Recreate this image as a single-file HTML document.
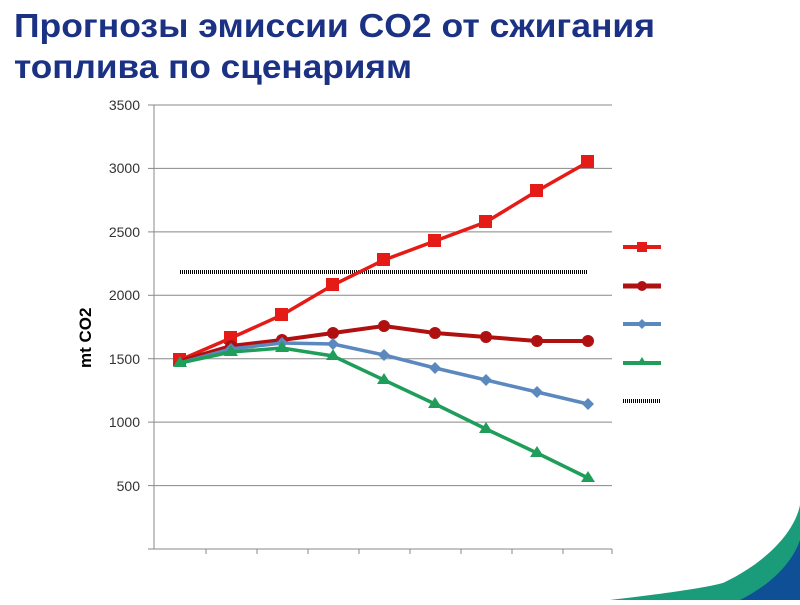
<!DOCTYPE html>
<html><head><meta charset="utf-8"><style>
body{margin:0;background:#fff;width:800px;height:600px;overflow:hidden;font-family:"Liberation Sans",sans-serif}
</style></head><body>
<svg width="800" height="600" xmlns="http://www.w3.org/2000/svg" font-family="Liberation Sans, sans-serif">
<text x="14" y="37" font-size="33" font-weight="bold" fill="#1a3184" textLength="641" lengthAdjust="spacingAndGlyphs">Прогнозы эмиссии CO2 от сжигания</text>
<text x="14" y="78" font-size="33" font-weight="bold" fill="#1a3184" textLength="398" lengthAdjust="spacingAndGlyphs">топлива по сценариям</text>
<g stroke="#888" stroke-width="1">
<line x1="154" y1="105" x2="612" y2="105"/><line x1="154" y1="168.4" x2="612" y2="168.4"/>
<line x1="154" y1="231.9" x2="612" y2="231.9"/><line x1="154" y1="295.3" x2="612" y2="295.3"/>
<line x1="154" y1="358.7" x2="612" y2="358.7"/><line x1="154" y1="422.1" x2="612" y2="422.1"/>
<line x1="154" y1="485.6" x2="612" y2="485.6"/><line x1="154" y1="549" x2="612" y2="549"/>
<line x1="154" y1="105" x2="154" y2="549"/>
<line x1="148" y1="105" x2="154" y2="105"/><line x1="148" y1="168.4" x2="154" y2="168.4"/><line x1="148" y1="231.9" x2="154" y2="231.9"/><line x1="148" y1="295.3" x2="154" y2="295.3"/><line x1="148" y1="358.7" x2="154" y2="358.7"/><line x1="148" y1="422.1" x2="154" y2="422.1"/><line x1="148" y1="485.6" x2="154" y2="485.6"/><line x1="148" y1="549" x2="154" y2="549"/>
<line x1="206" y1="549" x2="206" y2="554"/><line x1="257" y1="549" x2="257" y2="554"/><line x1="308" y1="549" x2="308" y2="554"/><line x1="359" y1="549" x2="359" y2="554"/><line x1="410" y1="549" x2="410" y2="554"/><line x1="461" y1="549" x2="461" y2="554"/><line x1="512" y1="549" x2="512" y2="554"/><line x1="563" y1="549" x2="563" y2="554"/><line x1="612" y1="549" x2="612" y2="554"/>
</g>
<g font-size="14" fill="#333" text-anchor="end">
<text x="140" y="110">3500</text><text x="140" y="173">3000</text><text x="140" y="237">2500</text><text x="140" y="300">2000</text><text x="140" y="364">1500</text><text x="140" y="427">1000</text><text x="140" y="491">500</text>
</g>
<text transform="translate(91,368) rotate(-90)" font-size="17" font-weight="bold" fill="#000">mt CO2</text>
<line x1="180" y1="272" x2="588" y2="272" stroke="#000" stroke-width="4" stroke-dasharray="1,1"/>
<polyline fill="none" stroke="#e41b17" stroke-width="3.5" points="180,360 231,338 282,315 333,285 384,260 435,241 486,222 537,191 588,162"/>
<g fill="#e41b17"><rect x="173" y="353" width="13" height="13"/><rect x="224" y="331" width="13" height="13"/><rect x="275" y="308" width="13" height="13"/><rect x="326" y="278" width="13" height="13"/><rect x="377" y="253" width="13" height="13"/><rect x="428" y="234" width="13" height="13"/><rect x="479" y="215" width="13" height="13"/><rect x="530" y="184" width="13" height="13"/><rect x="581" y="155" width="13" height="13"/></g>
<polyline fill="none" stroke="#b01010" stroke-width="4" points="180,361 231,346 282,340 333,333 384,326 435,333 486,337 537,341 588,341"/>
<g fill="#b01010"><circle cx="231" cy="346" r="6"/><circle cx="282" cy="340" r="6"/><circle cx="333" cy="333" r="6"/><circle cx="384" cy="326" r="6"/><circle cx="435" cy="333" r="6"/><circle cx="486" cy="337" r="6"/><circle cx="537" cy="341" r="6"/><circle cx="588" cy="341" r="6"/></g>
<polyline fill="none" stroke="#5b88be" stroke-width="3.5" points="180,363 231,349 282,343 333,344 384,355 435,368 486,380 537,392 588,404"/>
<g fill="#5b88be"><path d="M231 343l6 6-6 6-6-6z"/><path d="M282 337l6 6-6 6-6-6z"/><path d="M333 338l6 6-6 6-6-6z"/><path d="M384 349l6 6-6 6-6-6z"/><path d="M435 362l6 6-6 6-6-6z"/><path d="M486 374l6 6-6 6-6-6z"/><path d="M537 386l6 6-6 6-6-6z"/><path d="M588 398l6 6-6 6-6-6z"/></g>
<polyline fill="none" stroke="#1f9e5a" stroke-width="3.5" points="180,363 231,352 282,348 333,356 384,380 435,404 486,429 537,453 588,478"/>
<g fill="#1f9e5a"><path d="M180 356l7 11h-14z"/><path d="M231 345l7 11h-14z"/><path d="M282 341l7 11h-14z"/><path d="M333 349l7 11h-14z"/><path d="M384 373l7 11h-14z"/><path d="M435 397l7 11h-14z"/><path d="M486 422l7 11h-14z"/><path d="M537 446l7 11h-14z"/><path d="M588 471l7 11h-14z"/></g>
<line x1="623" y1="247" x2="661" y2="247" stroke="#e41b17" stroke-width="4"/><rect x="637" y="242" width="10" height="10" fill="#e41b17"/>
<line x1="623" y1="286" x2="661" y2="286" stroke="#b01010" stroke-width="5"/><circle cx="642" cy="286" r="5" fill="#b01010"/>
<line x1="623" y1="324" x2="661" y2="324" stroke="#5b88be" stroke-width="4"/><path d="M642 319l5 5-5 5-5-5z" fill="#5b88be"/>
<line x1="623" y1="363" x2="661" y2="363" stroke="#1f9e5a" stroke-width="4"/><path d="M642 357l5 8h-10z" fill="#1f9e5a"/>
<line x1="623" y1="401" x2="661" y2="401" stroke="#000" stroke-width="4" stroke-dasharray="1,1"/>
<path d="M610 600 C680 592,720 585,725 582 C770 560,795 530,800 505 L800 600Z" fill="#1a9c7a"/>
<path d="M740 600 C780 580,795 555,800 540 L800 600Z" fill="#0e4f96"/>
</svg>
</body></html>
